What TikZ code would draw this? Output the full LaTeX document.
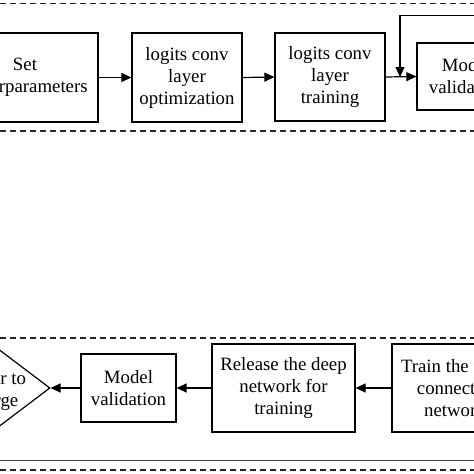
\documentclass[tikz,border=0pt]{standalone}
\usepackage{fontspec}
\setmainfont{Liberation Serif}
\usetikzlibrary{arrows.meta,shapes.geometric}
\begin{document}
\begin{tikzpicture}[x=1pt,y=-1pt,
  stepbox/.style={draw=black, line width=1.2pt, inner sep=0pt, align=center,
    font=\fontsize{18.8}{22}\selectfont},
  txt/.style={inner sep=0pt, align=center, font=\fontsize{18.8}{22}\selectfont},
  decision/.style={draw=black, diamond, line width=1.2pt, inner sep=0pt,
    minimum width=132pt, minimum height=100pt},
  arr/.style={-{Triangle[length=10pt,width=9pt]}, line width=1.2pt},
  sep/.style={draw=black!85, line width=1.3pt, dash pattern=on 6pt off 4pt},
  solidsep/.style={draw=black!75, line width=1.5pt}]
\useasboundingbox (0,0) rectangle (474,474);
\clip (0,0) rectangle (474,474);

% separators
\coordinate (s1a) at (0,3.5);   \coordinate (s1b) at (474,3.5);
\coordinate (s2a) at (0,131);   \coordinate (s2b) at (474,131);
\coordinate (s3a) at (0,338);   \coordinate (s3b) at (474,338);
\coordinate (s4a) at (0,460.5); \coordinate (s4b) at (474,460.5);
\coordinate (s5a) at (0,470);   \coordinate (s5b) at (474,470);
\draw[sep] (s1a) -- (s1b);
\draw[sep] (s2a) -- (s2b);
\draw[sep] (s3a) -- (s3b);
\draw[solidsep] (s4a) -- (s4b);
\draw[sep] (s5a) -- (s5b);

% top row
\node[stepbox, minimum width=146pt, minimum height=89pt] (hp) at (25,77.5) {Set\\hyperparameters};
\node[stepbox, minimum width=110pt, minimum height=89pt] (opt) at (187,77.5) {logits conv\\layer\\optimization};
\node[stepbox, minimum width=110pt, minimum height=88pt] (trn) at (330,77) {logits conv\\layer\\training};
\node[stepbox, minimum width=99pt, minimum height=67pt] (mv1) at (466.5,76.5) {Model\\validation};

\draw[arr] (hp.east) -- (opt.west);
\draw[arr] (opt.east) -- (trn.west);
\draw[arr] (trn.east) -- (mv1.west);

\coordinate (fbstart) at (480,15.7);
\coordinate (fbcorner) at (400,15.7);
\coordinate (fbend) at (400,77);
\draw[arr] (fbstart) -- (fbcorner) -- (fbend);

% bottom row
\node[decision] (conv) at (-16,388) {};
\node[txt] (convtxt) at (-16,391) {Whether to\\converge};
\node[stepbox, minimum width=95pt, minimum height=68pt] (mv2) at (128.5,388) {Model\\validation};
\node[stepbox, minimum width=143pt, minimum height=88pt] (rel) at (283.5,388) {Release the deep\\network for\\training};
\node[stepbox, minimum width=126pt, minimum height=88pt] (fc) at (455,388) {Train the fully\\connected\\network};

\draw[arr] (fc.west) -- (rel.east);
\draw[arr] (rel.west) -- (mv2.east);
\draw[arr] (mv2.west) -- (conv.east);
\end{tikzpicture}
\end{document}
